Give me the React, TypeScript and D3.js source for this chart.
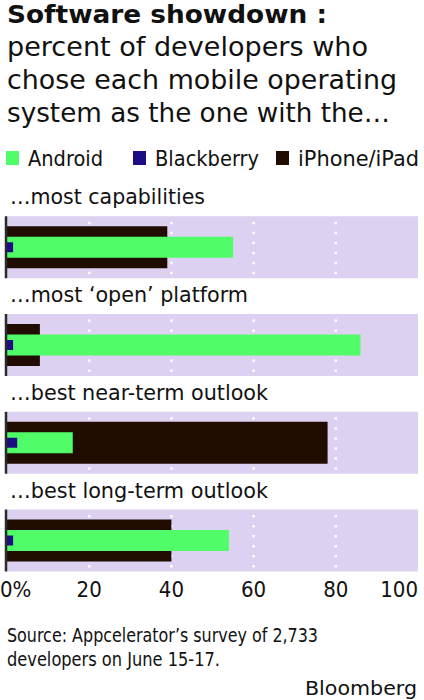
import { useEffect, useRef } from "react";
import * as d3 from "d3";

// data
const categories = [
    "…most capabilities",
    "…most ‘open’ platform",
    "…best near-term outlook",
    "…best long-term outlook",
];
const seriesNames = [ "Android", "Blackberry", "iPhone/iPad" ];
const iphone = [ 39, 8, 78, 40 ];
const android = [ 55, 86, 16, 54 ];
const blackberry = [ 1, 1, 2, 1 ];
const ticks = [ 0, 20, 40, 60, 80, 100 ];
const gridTicks = [ 20, 40, 60, 80 ];
const subtitle = [
    "percent of developers who",
    "chose each mobile operating",
    "system as the one with the…",
];
const sourceLines = [ "Source: Appcelerator’s survey of 2,733", "developers on June 15-17." ];

const COLORS = {
    android: "#50fd69",
    blackberry: "#1d0d85",
    iphone: "#210c02",
    panel: "#dcd1f0",
    axis: "#2b2b2b",
    text: "#111",
};
const FONT = "'Liberation Sans Narrow', 'DejaVu Sans Condensed', 'Roboto', sans-serif";
const HEAD_FONT = "'DejaVu Sans', 'Open Sans', sans-serif";

export default function App ()
{
    const svgRef = useRef<SVGSVGElement>( null );

    useEffect( () =>
    {
        if ( !svgRef.current ) return;
        const W = 424, H = 700;
        const svg = d3.select( svgRef.current );
        svg.selectAll( "*" ).remove();
        svg.attr( "width", W ).attr( "height", H );

        const x = d3.scaleLinear().domain( [ 0, 100 ] ).range( [ 7, 418 ] );
        const y = d3.scaleBand().domain( categories ).range( [ 180.5, 571.5 ] ).paddingInner( 0 );
        const panelH = 62;
        const panelTop = ( c: string ) => ( y( c ) || 0 ) + y.step() - panelH;

        // header
        svg.append( "text" ).attr( "x", 7 ).attr( "y", 23 )
            .attr( "font-family", HEAD_FONT ).attr( "font-weight", 900 ).attr( "font-size", 24 )
            .attr( "textLength", 320 ).attr( "lengthAdjust", "spacingAndGlyphs" )
            .attr( "fill", COLORS.text ).text( "Software showdown :" );
        const subW = [ 361, 390, 383 ];
        svg.selectAll( ".sub" ).data( subtitle ).join( "text" ).attr( "class", "sub" )
            .attr( "x", 7 ).attr( "y", ( _, i ) => 56 + i * 33 )
            .attr( "font-family", HEAD_FONT ).attr( "font-size", 27 )
            .attr( "textLength", ( _, i ) => subW[ i ] ).attr( "lengthAdjust", "spacingAndGlyphs" )
            .attr( "fill", COLORS.text ).text( ( d ) => d );

        // legend
        const legColors = [ COLORS.android, COLORS.blackberry, COLORS.iphone ];
        const legX = [ 6, 133, 276 ];
        const legW = [ 75, 104, 121 ];
        const leg = svg.append( "g" );
        leg.selectAll( "rect" ).data( seriesNames ).join( "rect" )
            .attr( "x", ( _, i ) => legX[ i ] ).attr( "y", 151 ).attr( "width", 13 ).attr( "height", 14 )
            .attr( "fill", ( _, i ) => legColors[ i ] );
        leg.selectAll( "text" ).data( seriesNames ).join( "text" )
            .attr( "x", ( _, i ) => legX[ i ] + 22 ).attr( "y", 166 )
            .attr( "font-family", FONT ).attr( "font-size", 22 )
            .attr( "textLength", ( _, i ) => legW[ i ] ).attr( "lengthAdjust", "spacingAndGlyphs" )
            .attr( "fill", COLORS.text ).text( ( d ) => d );

        // groups
        const labW = [ 195, 238, 258, 258 ];
        const g = svg.append( "g" );
        const grp = g.selectAll( ".grp" ).data( categories ).join( "g" ).attr( "class", "grp" );

        grp.append( "text" ).attr( "x", 10 ).attr( "y", ( d ) => panelTop( d ) - 12 )
            .attr( "font-family", FONT ).attr( "font-size", 22 )
            .attr( "textLength", ( _, i ) => labW[ i ] ).attr( "lengthAdjust", "spacingAndGlyphs" )
            .attr( "fill", COLORS.text ).text( ( d ) => d );

        grp.append( "rect" ).attr( "x", x( 0 ) ).attr( "y", ( d ) => panelTop( d ) )
            .attr( "width", x( 100 ) - x( 0 ) ).attr( "height", panelH ).attr( "fill", COLORS.panel );

        gridTicks.forEach( ( t ) =>
        {
            grp.append( "line" ).attr( "x1", x( t ) ).attr( "x2", x( t ) )
                .attr( "y1", ( d ) => panelTop( d ) + 5.5 ).attr( "y2", ( d ) => panelTop( d ) + panelH )
                .attr( "stroke", "#fff" ).attr( "stroke-width", 2.5 ).attr( "stroke-dasharray", "2.5,7.5" );
        } );

        grp.append( "rect" ).attr( "x", x( 0 ) ).attr( "y", ( d ) => panelTop( d ) + 10 )
            .attr( "width", ( _, i ) => x( iphone[ i ] ) - x( 0 ) ).attr( "height", panelH - 20 )
            .attr( "fill", COLORS.iphone );
        grp.append( "rect" ).attr( "x", x( 0 ) ).attr( "y", ( d ) => panelTop( d ) + 20.5 )
            .attr( "width", ( _, i ) => x( android[ i ] ) - x( 0 ) ).attr( "height", 21 )
            .attr( "fill", COLORS.android );
        grp.append( "rect" ).attr( "x", x( 0 ) ).attr( "y", ( d ) => panelTop( d ) + 26 )
            .attr( "width", ( _, i ) => x( blackberry[ i ] ) - x( 0 ) + 2 ).attr( "height", 10 )
            .attr( "fill", COLORS.blackberry );

        grp.append( "line" ).attr( "x1", 6 ).attr( "x2", 6 )
            .attr( "y1", ( d ) => panelTop( d ) ).attr( "y2", ( d ) => panelTop( d ) + panelH )
            .attr( "stroke", COLORS.axis ).attr( "stroke-width", 2.5 );

        // x ticks
        svg.append( "g" ).selectAll( "text" ).data( ticks ).join( "text" )
            .attr( "x", ( d ) => d === 0 ? 0 : d === 100 ? x( 100 ) : x( d ) )
            .attr( "y", 597 )
            .attr( "text-anchor", ( d ) => d === 0 ? "start" : d === 100 ? "end" : "middle" )
            .attr( "font-family", FONT ).attr( "font-size", 22 )
            .attr( "fill", COLORS.text ).text( ( d ) => d === 0 ? "0%" : String( d ) );

        // footer
        const srcW = [ 311, 213 ];
        svg.selectAll( ".src" ).data( sourceLines ).join( "text" ).attr( "class", "src" )
            .attr( "x", 7 ).attr( "y", ( _, i ) => 642 + i * 24 )
            .attr( "font-family", FONT ).attr( "font-size", 19 )
            .attr( "textLength", ( _, i ) => srcW[ i ] ).attr( "lengthAdjust", "spacingAndGlyphs" )
            .attr( "fill", COLORS.text ).text( ( d ) => d );
        svg.append( "text" ).attr( "x", 417 ).attr( "y", 695 ).attr( "text-anchor", "end" )
            .attr( "font-family", HEAD_FONT ).attr( "font-size", 20 )
            .attr( "textLength", 112 ).attr( "lengthAdjust", "spacingAndGlyphs" )
            .attr( "fill", COLORS.text ).text( "Bloomberg" );
    }, [] );

    return (
        <div style={ { position: "absolute", left: 0, top: 0, width: 424, height: 700, background: "#fff" } }>
            <svg ref={ svgRef } style={ { display: "block" } } />
        </div>
    );
}
